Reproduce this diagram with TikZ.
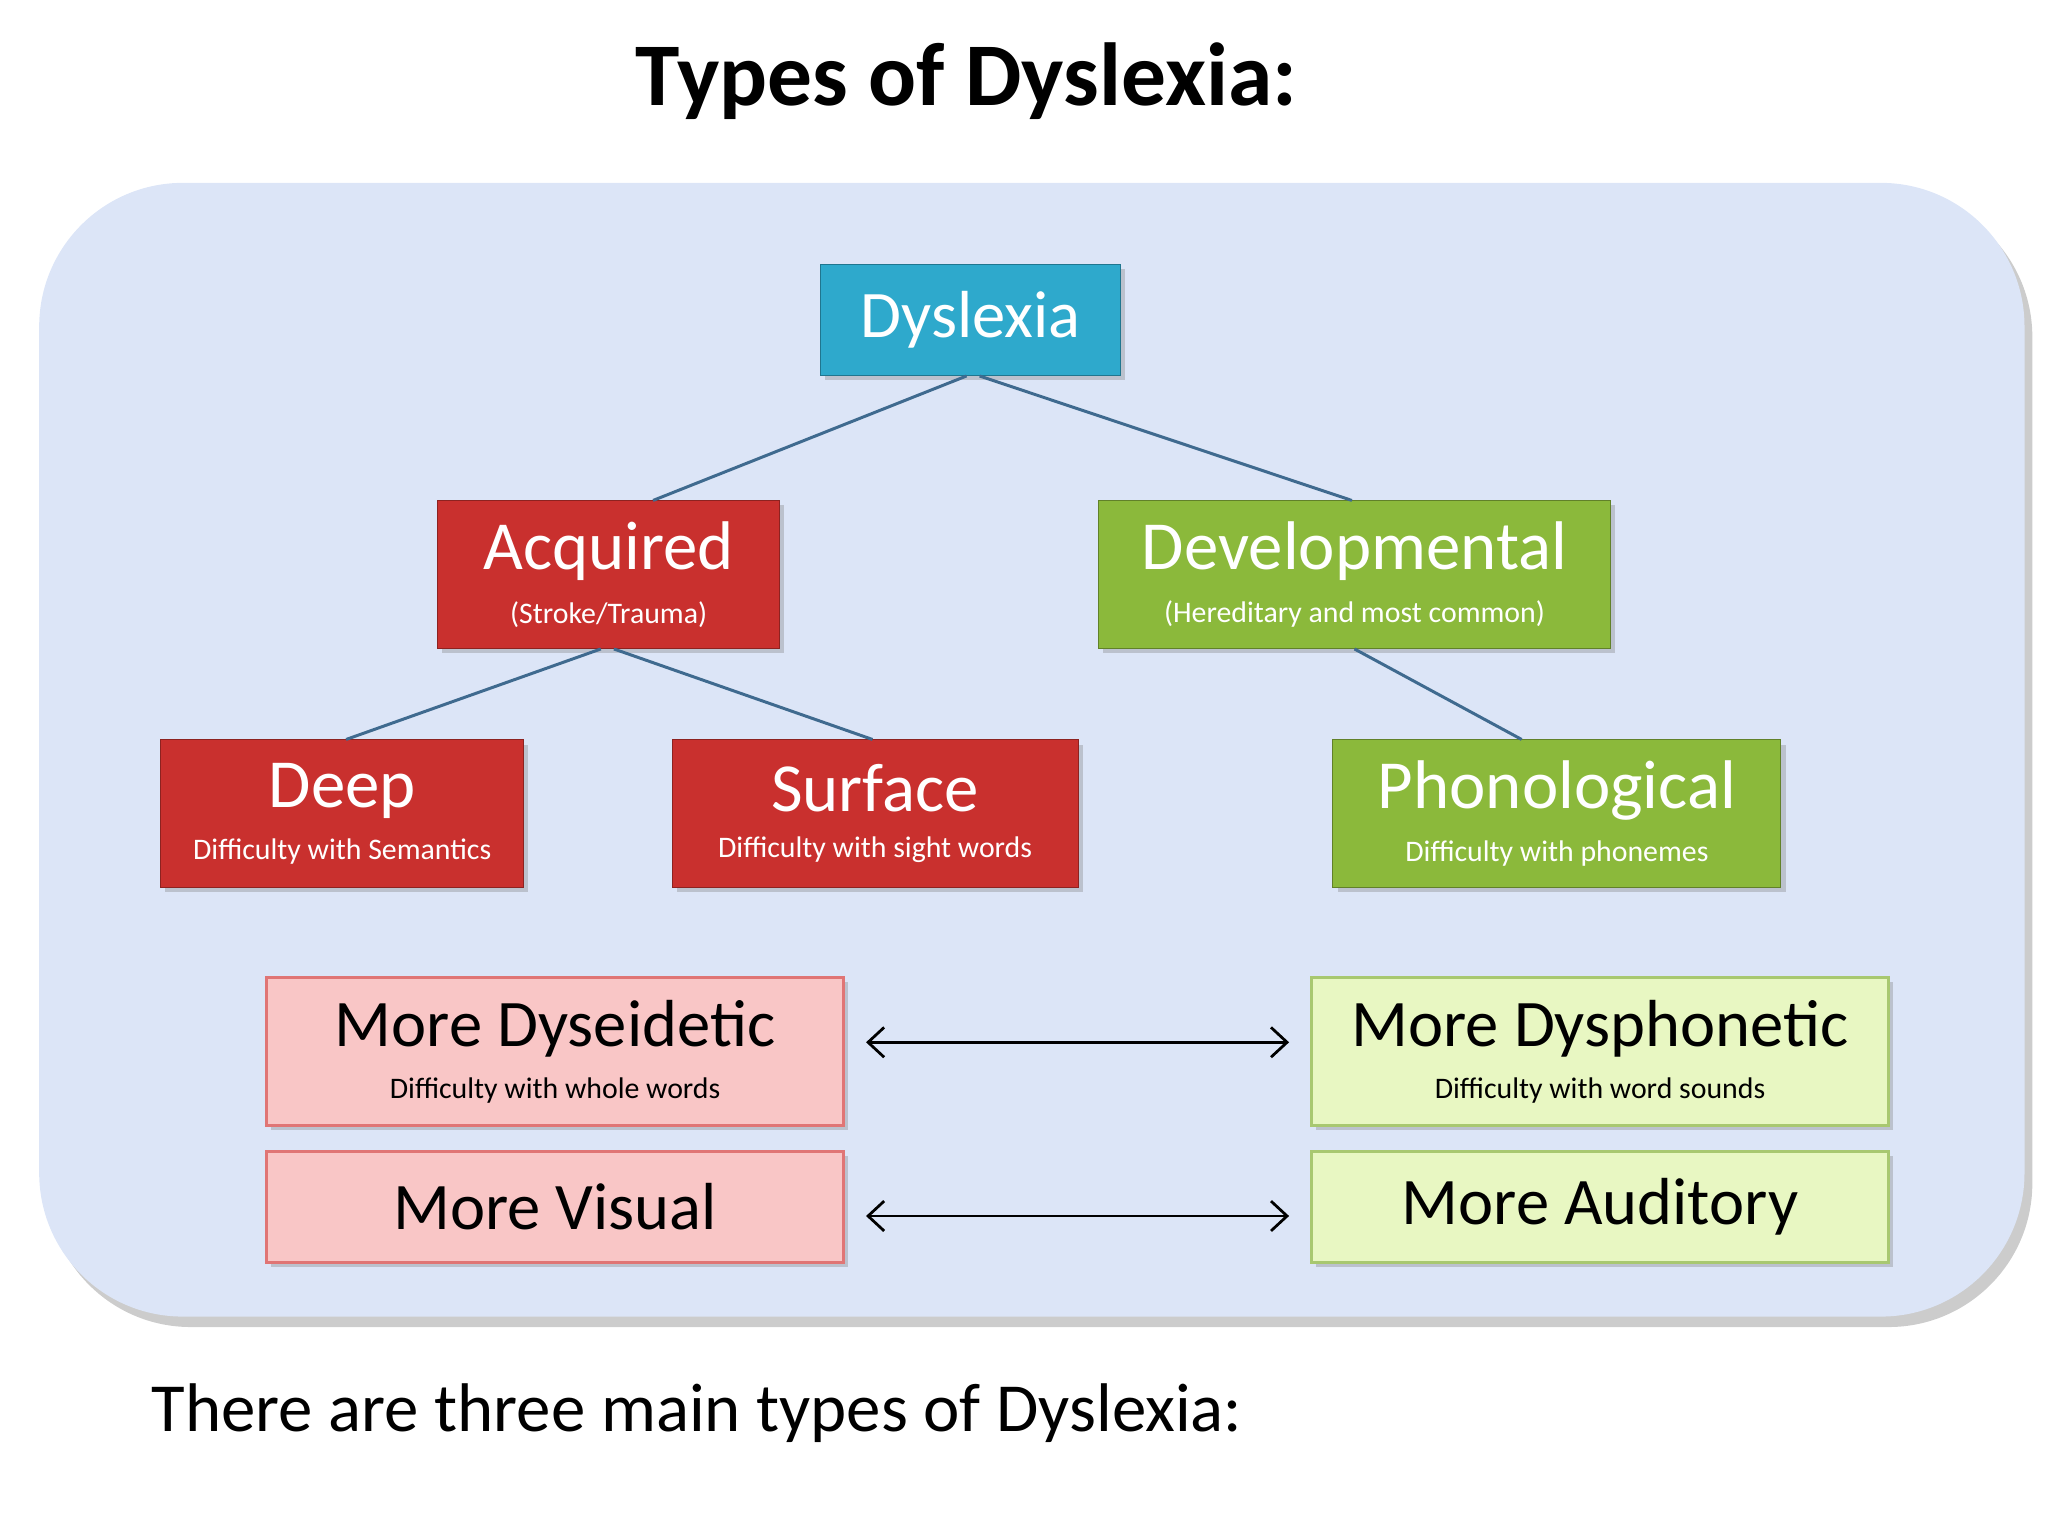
\documentclass[tikz,border=0pt]{standalone}
\usepackage{fontspec}
\setmainfont{Carlito}
\usetikzlibrary{shadows,arrows.meta}
\definecolor{panel}{HTML}{DCE5F7}
\definecolor{cyanb}{HTML}{2EA9CC}
\definecolor{redb}{HTML}{C9302E}
\definecolor{greenb}{HTML}{8BB93B}
\definecolor{pinkb}{HTML}{F9C6C6}
\definecolor{pinkd}{HTML}{E07575}
\definecolor{lgreen}{HTML}{E8F7C2}
\definecolor{lgreend}{HTML}{A8C870}
\definecolor{linec}{HTML}{3F6A8F}
\begin{document}
\begin{tikzpicture}[x=0.02cm,y=-0.02cm,
  box/.style={minimum width=#1*0.02cm, inner sep=0pt, align=center, drop shadow={shadow xshift=2pt,shadow yshift=-2pt,opacity=0.35}},
  darkbox/.style={box=#1, text=white, minimum height=113*0.02cm},
  lightbox/.style={box=#1, text=black, line width=1.2pt},
  conn/.style={draw=linec, line width=1.3pt},
  dbl/.style={{Straight Barb[length=7pt,width=13pt]}-{Straight Barb[length=7pt,width=13pt]}, line width=1.2pt, black}]
\useasboundingbox (0,0) rectangle (1568,1176);
\node (title) at (740,62) {\fontsize{39pt}{44pt}\selectfont\bfseries Types of Dyslexia:};
\fill[gray!40, rounded corners=110*0.02cm] (36,148) rectangle (1556,1016);
\fill[panel, rounded corners=110*0.02cm] (30,140) rectangle (1550,1008);
\node[box=230, minimum height=85*0.02cm, fill=cyanb, draw=cyanb!70!black, text=white] (dys) at (743,245) {\fontsize{29pt}{30pt}\selectfont Dyslexia};
\node[darkbox=262, fill=redb, draw=redb!70!black] (acq) at (466,440) {\fontsize{30pt}{32pt}\selectfont Acquired\\[8pt]\fontsize{13pt}{15pt}\selectfont (Stroke/Trauma)};
\node[darkbox=392, fill=greenb, draw=greenb!70!black] (dev) at (1037,440) {\fontsize{30pt}{32pt}\selectfont Developmental\\[8pt]\fontsize{13pt}{15pt}\selectfont (Hereditary and most common)};
\node[darkbox=278, fill=redb, draw=redb!70!black] (deep) at (262,623) {\fontsize{30pt}{32pt}\selectfont Deep\\[8pt]\fontsize{13pt}{15pt}\selectfont Difficulty with Semantics};
\node[darkbox=311, fill=redb, draw=redb!70!black] (surf) at (670,623) {\fontsize{30pt}{32pt}\selectfont Surface\\[8pt]\fontsize{13pt}{15pt}\selectfont Difficulty with sight words};
\node[darkbox=343, fill=greenb, draw=greenb!70!black] (phon) at (1192,623) {\fontsize{30pt}{32pt}\selectfont Phonological\\[8pt]\fontsize{13pt}{15pt}\selectfont Difficulty with phonemes};
\node[lightbox=442, minimum height=113*0.02cm, fill=pinkb, draw=pinkd] (dyse) at (425,805) {\fontsize{29pt}{30pt}\selectfont More Dyseidetic\\[8pt]\fontsize{13pt}{15pt}\selectfont Difficulty with whole words};
\node[lightbox=442, minimum height=85*0.02cm, fill=pinkb, draw=pinkd] (vis) at (425,924) {\fontsize{29pt}{30pt}\selectfont More Visual};
\node[lightbox=442, minimum height=113*0.02cm, fill=lgreen, draw=lgreend] (dysp) at (1225,805) {\fontsize{29pt}{30pt}\selectfont More Dysphonetic\\[8pt]\fontsize{13pt}{15pt}\selectfont Difficulty with word sounds};
\node[lightbox=442, minimum height=85*0.02cm, fill=lgreen, draw=lgreend] (aud) at (1225,924) {\fontsize{29pt}{30pt}\selectfont More Auditory};
\draw[conn] ([xshift=-3*0.02cm]dys.south) -- ([xshift=34*0.02cm]acq.north);
\draw[conn] ([xshift=7*0.02cm]dys.south) -- ([xshift=-2*0.02cm]dev.north);
\draw[conn] ([xshift=-6*0.02cm]acq.south) -- ([xshift=3*0.02cm]deep.north);
\draw[conn] ([xshift=4*0.02cm]acq.south) -- ([xshift=-2*0.02cm]surf.north);
\draw[conn] (dev.south) -- ([xshift=-27*0.02cm]phon.north);
\draw[dbl] ([xshift=16*0.02cm,yshift=7*0.02cm]dyse.east) -- ([xshift=-16*0.02cm,yshift=7*0.02cm]dysp.west);
\draw[dbl] ([xshift=16*0.02cm,yshift=-7*0.02cm]vis.east) -- ([xshift=-16*0.02cm,yshift=-7*0.02cm]aud.west);
\node[anchor=west] (foot) at (110,1082) {\fontsize{30pt}{32pt}\selectfont There are three main types of Dyslexia:};
\end{tikzpicture}
\end{document}
